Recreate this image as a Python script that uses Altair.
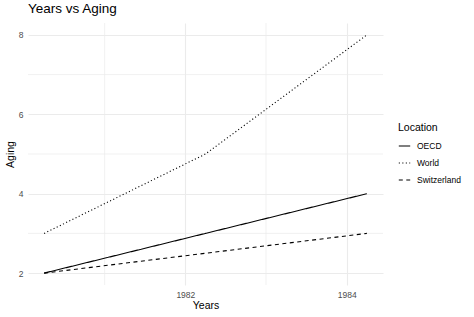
import altair as alt
import pandas as pd

years = [1980.25, 1982.25, 1984.25]
locations = ["OECD", "World", "Switzerland"]
oecd = [2, 3, 4]
world = [3, 5, 8]
switzerland = [2, 2.5, 3]

x_major = [1982, 1984]
x_minor = [1981, 1983]
y_major = [2, 4, 6, 8]
y_minor = [3, 5, 7]

rows = []
for loc, vals in zip(locations, [oecd, world, switzerland]):
    for yr, v in zip(years, vals):
        rows.append({"Years": yr, "Aging": v, "Location": loc})
df = pd.DataFrame(rows)

FONT = "Liberation Sans"
xdom = [1980.05, 1984.45]
ydom = [1.7, 8.3]
xscale = alt.Scale(domain=xdom, nice=False, zero=False)
yscale = alt.Scale(domain=ydom, nice=False, zero=False)

xaxis = alt.Axis(values=x_major, format="d", grid=True, gridColor="#ebebeb",
                 gridWidth=1.1, domain=False, ticks=False,
                 labelColor="#4d4d4d", labelFontSize=8.5, labelPadding=5,
                 labelFont=FONT, title="Years", titleFont=FONT,
                 titleFontSize=10.5, titleFontWeight="normal",
                 titleColor="black", titlePadding=2)
yaxis = alt.Axis(values=y_major, format="d", grid=True, gridColor="#ebebeb",
                 gridWidth=1.1, domain=False, ticks=False,
                 labelColor="#4d4d4d", labelFontSize=8.5, labelPadding=5,
                 labelFont=FONT, title="Aging", titleFont=FONT,
                 titleFontSize=10.5, titleFontWeight="normal",
                 titleColor="black", titlePadding=3)

minor_x = alt.Chart(pd.DataFrame({"Years": x_minor})).mark_rule(
    color="#ebebeb", strokeWidth=0.7
).encode(x=alt.X("Years:Q", scale=xscale, axis=xaxis))
minor_y = alt.Chart(pd.DataFrame({"Aging": y_minor})).mark_rule(
    color="#ebebeb", strokeWidth=0.7
).encode(y=alt.Y("Aging:Q", scale=yscale, axis=yaxis))

lines = alt.Chart(df).mark_line(color="black", strokeWidth=1.1).encode(
    x=alt.X("Years:Q", scale=xscale, axis=xaxis),
    y=alt.Y("Aging:Q", scale=yscale, axis=yaxis),
    strokeDash=alt.StrokeDash(
        "Location:N",
        scale=alt.Scale(domain=locations, range=[[1, 0], [1.1, 2.4], [4, 3.5]]),
        sort=locations,
        legend=alt.Legend(orient="none", legendX=370, legendY=100, title="Location",
                          titleFont=FONT, titleFontSize=10.5, titleFontWeight="normal",
                          titleColor="black", labelFont=FONT, labelFontSize=8.5,
                          labelColor="black", symbolType="stroke", symbolSize=130,
                          symbolStrokeColor="black", symbolStrokeWidth=1.1,
                          labelOffset=6, rowPadding=6, padding=0, titlePadding=6),
    ),
    order=alt.Order("Years:Q"),
)

chart = alt.layer(minor_x, minor_y, lines).properties(
    width=355, height=262,
    background="white",
    title=alt.TitleParams("Years vs Aging", anchor="start", frame="group",
                          fontSize=13.5, fontWeight="normal", font=FONT,
                          color="black", offset=7),
    autosize=alt.AutoSizeParams(type="none"),
    padding={"left": 28, "top": 23, "right": 91, "bottom": 32},
).configure_view(stroke=None)

chart.save("out.html", embed_options={"renderer": "svg", "actions": False})
